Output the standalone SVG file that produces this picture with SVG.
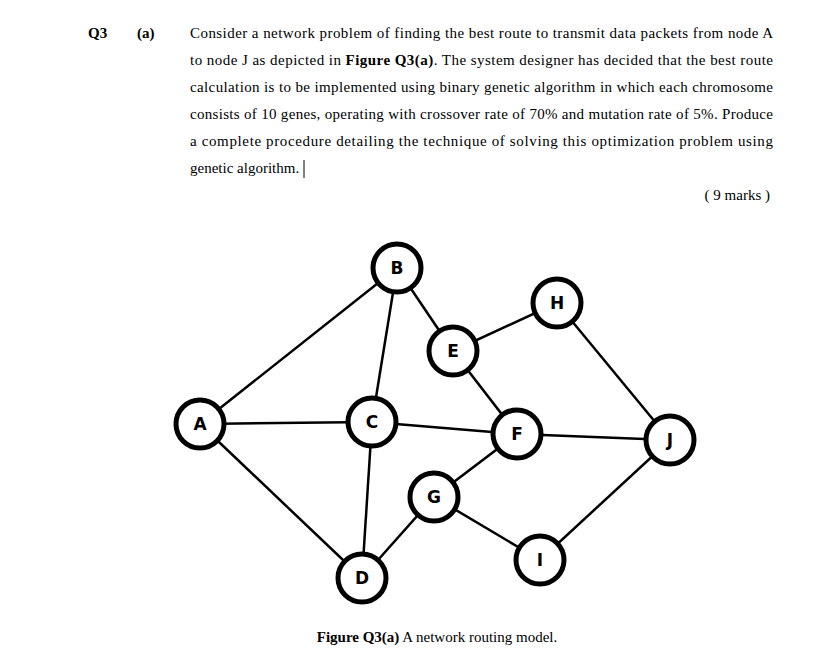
<svg xmlns="http://www.w3.org/2000/svg" width="831" height="665" viewBox="0 0 831 665">
<style>
text{font-family:"Liberation Serif","Times New Roman",serif;font-size:15px;fill:#000}
.b{font-weight:bold}
.n circle{fill:#fff;stroke:#000;stroke-width:5}
.n text{font-family:"DejaVu Sans","Liberation Sans",sans-serif;font-weight:bold;font-size:17px;text-anchor:middle}
#edges line{stroke:#000;stroke-width:2.5}
</style>
<rect width="831" height="665" fill="#fff"/>
<text x="88" y="38" class="b">Q3</text>
<text x="137" y="38" class="b">(a)</text>
<text x="190" y="38" textLength="583" lengthAdjust="spacing">Consider a network problem of  finding the best route to transmit data packets from node A</text>
<text x="190" y="65" textLength="583" lengthAdjust="spacing">to node J as depicted in <tspan class="b">Figure Q3(a)</tspan>. The system designer has decided that the best route</text>
<text x="190" y="92" textLength="583" lengthAdjust="spacing">calculation is to be implemented using binary genetic algorithm in which each chromosome</text>
<text x="190" y="119" textLength="583" lengthAdjust="spacing">consists of 10 genes, operating with crossover rate of 70% and mutation rate of 5%. Produce</text>
<text x="190" y="146" textLength="583" lengthAdjust="spacing">a complete procedure detailing the technique of solving this optimization problem using</text>
<text x="190" y="173">genetic algorithm.</text>
<line x1="304" y1="160" x2="304" y2="178" stroke="#000" stroke-width="1"/>
<text x="770" y="200" text-anchor="end">( 9 marks )</text>
<g id="edges">
<line x1="200" y1="424" x2="397" y2="268"/>
<line x1="200" y1="424" x2="372" y2="422"/>
<line x1="200" y1="424" x2="362" y2="578"/>
<line x1="397" y1="268" x2="372" y2="422"/>
<line x1="397" y1="268" x2="453" y2="351"/>
<line x1="372" y1="422" x2="517" y2="434"/>
<line x1="372" y1="422" x2="362" y2="578"/>
<line x1="453" y1="351" x2="557" y2="303"/>
<line x1="453" y1="351" x2="517" y2="434"/>
<line x1="557" y1="303" x2="670" y2="440"/>
<line x1="517" y1="434" x2="670" y2="440"/>
<line x1="517" y1="434" x2="434" y2="497"/>
<line x1="434" y1="497" x2="362" y2="578"/>
<line x1="434" y1="497" x2="540" y2="560"/>
<line x1="540" y1="560" x2="670" y2="440"/>
</g>
<g id="B" class="n"><circle cx="397" cy="268" r="24"/><text x="397" y="274">B</text></g>
<g id="H" class="n"><circle cx="557" cy="303" r="24"/><text x="557" y="309">H</text></g>
<g id="E" class="n"><circle cx="453" cy="351" r="24"/><text x="453" y="357">E</text></g>
<g id="A" class="n"><circle cx="200" cy="424" r="24"/><text x="200" y="430">A</text></g>
<g id="C" class="n"><circle cx="372" cy="422" r="24"/><text x="372" y="428">C</text></g>
<g id="F" class="n"><circle cx="517" cy="434" r="24"/><text x="517" y="440">F</text></g>
<g id="J" class="n"><circle cx="670" cy="440" r="24"/><text x="670" y="446">J</text></g>
<g id="G" class="n"><circle cx="434" cy="497" r="24"/><text x="434" y="503">G</text></g>
<g id="I" class="n"><circle cx="540" cy="560" r="24"/><text x="540" y="566">I</text></g>
<g id="D" class="n"><circle cx="362" cy="578" r="24"/><text x="362" y="584">D</text></g>
<text x="437" y="642" text-anchor="middle"><tspan class="b">Figure Q3(a)</tspan> A network routing model.</text>
</svg>
